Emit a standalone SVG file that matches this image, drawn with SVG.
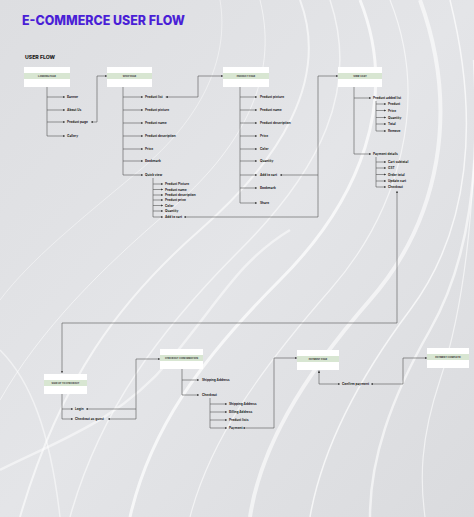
<svg xmlns="http://www.w3.org/2000/svg" width="474" height="517" viewBox="0 0 474 517">
<defs>
<linearGradient id="bg" x1="0" y1="0" x2="1" y2="1">
<stop offset="0" stop-color="#dddee1"/>
<stop offset="0.5" stop-color="#e4e5e8"/>
<stop offset="1" stop-color="#dadbde"/>
</linearGradient>
<marker id="ah" viewBox="0 0 4 4" refX="4" refY="2" markerWidth="2.4" markerHeight="2.4" markerUnits="userSpaceOnUse" orient="auto-start-reverse">
<path d="M0 0L4 2L0 4z" fill="#3a3a3a"/>
</marker>
<style>
.ln{fill:none;stroke:#555;stroke-width:0.6}
.cn{fill:none;stroke:#555;stroke-width:0.6;marker-end:url(#ah)}
.cs{fill:none;stroke:#555;stroke-width:0.6;marker-start:url(#ah)}
.cb{fill:none;stroke:#555;stroke-width:0.6;marker-start:url(#ah);marker-end:url(#ah)}
.box{fill:#ffffff}
.band{fill:#d8e6d2}
.nt{font-family:Inter,"Open Sans",sans-serif;font-size:2.4px;font-weight:700;fill:#333;text-anchor:middle}
.it{font-family:Inter,"Open Sans",sans-serif;font-size:3.2px;font-weight:700;fill:#2a2a2a}
.wave{fill:none;stroke:#ffffff}
</style>
</defs>
<rect width="474" height="517" fill="url(#bg)"/>
<g id="background-waves">
<path class="wave" stroke-width="2" opacity="0.6" d="M300 0C330 80 280 160 200 230C120 300 60 380 20 517"/>
<path class="wave" stroke-width="1.5" opacity="0.55" d="M330 0C360 90 320 170 240 250C160 330 100 410 70 517"/>
<path class="wave" stroke-width="3" opacity="0.7" d="M360 0C400 100 360 200 280 280C200 360 150 430 130 517"/>
<path class="wave" stroke-width="1.2" opacity="0.6" d="M390 0C430 100 400 210 330 290C260 370 210 440 190 517"/>
<path class="wave" stroke-width="4" opacity="0.6" d="M420 0C460 110 440 220 370 300C300 380 260 450 250 517"/>
<path class="wave" stroke-width="1.5" opacity="0.7" d="M450 0C480 120 470 230 410 310C350 390 320 460 310 517"/>
<path class="wave" stroke-width="2.5" opacity="0.6" d="M474 60C480 170 470 260 430 330C390 400 370 460 370 517"/>
<path class="wave" stroke-width="1.2" opacity="0.6" d="M474 160C470 250 460 320 440 380C420 440 420 480 425 517"/>
<path class="wave" stroke-width="1" opacity="0.55" d="M260 0C280 80 240 150 170 210C100 270 40 330 0 400"/>
<path class="wave" stroke-width="1" opacity="0.45" d="M220 0C230 60 200 120 140 170C80 220 30 260 0 300"/>
<path class="wave" stroke-width="2.5" opacity="0.5" d="M0 470C60 440 120 420 170 360C220 300 240 260 290 230"/>
<path class="wave" stroke-width="1.5" opacity="0.5" d="M0 350C30 380 50 430 60 517"/>
</g>
<g id="title">
<text x="22" y="25" font-family="Inter,'Open Sans',sans-serif" font-size="13" font-weight="800" fill="#4a1fd6" textLength="163" lengthAdjust="spacingAndGlyphs">E-COMMERCE USER FLOW</text>
<text x="25" y="58.5" font-family="Inter,'Open Sans',sans-serif" font-size="5.2" font-weight="800" fill="#1e1e1e">USER FLOW</text>
</g>
<g id="connectors">
<path class="ln" d="M47 87V136"/>
<path class="cn" d="M47 97H65"/><path class="cn" d="M47 110H65"/><path class="cn" d="M47 122H65"/><path class="cn" d="M47 136H65"/>
<path class="cb" d="M91 122H97V76H107"/>
<path class="ln" d="M123 87V175"/>
<path class="cn" d="M123 97H143"/><path class="cn" d="M123 110H143"/><path class="cn" d="M123 123H143"/><path class="cn" d="M123 136H143"/><path class="cn" d="M123 149H143"/><path class="cn" d="M123 161H143"/><path class="cn" d="M123 175H143"/>
<path class="ln" d="M153 178V217"/>
<path class="cn" d="M153 184H163"/><path class="cn" d="M153 189.5H163"/><path class="cn" d="M153 195H163"/><path class="cn" d="M153 200H163"/><path class="cn" d="M153 205.5H163"/><path class="cn" d="M153 211H163"/><path class="cn" d="M153 217H163"/>
<path class="cb" d="M165.5 97H198V76H223"/>
<path class="ln" d="M240 87V203"/>
<path class="cn" d="M240 97H257"/><path class="cn" d="M240 110H257"/><path class="cn" d="M240 123H257"/><path class="cn" d="M240 136H257"/><path class="cn" d="M240 149H257"/><path class="cn" d="M240 161H257"/><path class="cn" d="M240 175H257"/><path class="cn" d="M240 188H257"/><path class="cn" d="M240 203H257"/>
<path class="cs" d="M280 175H318"/>
<path class="cb" d="M184 217H318V76H338"/>
<path class="ln" d="M354 87V154"/>
<path class="cn" d="M354 98H371"/><path class="cn" d="M354 154H371"/>
<path class="ln" d="M376 101V131"/>
<path class="cn" d="M376 104H386"/><path class="cn" d="M376 110.5H386"/><path class="cn" d="M376 117.5H386"/><path class="cn" d="M376 124H386"/><path class="cn" d="M376 131H386"/>
<path class="ln" d="M376 157V187"/>
<path class="cn" d="M376 162H386"/><path class="cn" d="M376 168H386"/><path class="cn" d="M376 174.5H386"/><path class="cn" d="M376 181H386"/><path class="cn" d="M376 187H386"/>
<path class="cb" d="M397 191V323H62V373"/>
<path class="ln" d="M62 394V419"/>
<path class="cn" d="M62 409H73"/><path class="cn" d="M62 419H73"/>
<path class="cs" d="M86 409H136"/>
<path class="cb" d="M108 419H136V359H160"/>
<path class="ln" d="M182 369V395"/>
<path class="cn" d="M182 380H199"/><path class="cn" d="M182 395H199"/>
<path class="ln" d="M210 398V428"/>
<path class="cn" d="M210 404H227"/><path class="cn" d="M210 412H227"/><path class="cn" d="M210 420H227"/><path class="cn" d="M210 428H227"/>
<path class="cb" d="M243 428H274V358H297"/>
<path class="cb" d="M319 370.5V384H340"/>
<path class="cb" d="M371 384H403V358H427"/>
</g>
<g id="landing-page">
<rect class="box" x="24" y="67" width="46" height="20"/><rect class="band" x="24" y="73" width="46" height="6"/>
<text class="nt" x="47" y="76.9">LANDING PAGE</text>
<text class="it" x="67" y="98.1">Banner</text>
<text class="it" x="67" y="111.1">About Us</text>
<text class="it" x="67" y="123.1">Product page</text>
<text class="it" x="67" y="137.1">Gallery</text>
</g>
<g id="shop-page">
<rect class="box" x="107" y="67" width="45" height="20"/><rect class="band" x="107" y="73" width="45" height="6"/>
<text class="nt" x="129.5" y="76.9">SHOP PAGE</text>
<text class="it" x="145" y="98.1">Product list</text>
<text class="it" x="145" y="111.1">Product picture</text>
<text class="it" x="145" y="124.1">Product name</text>
<text class="it" x="145" y="137.1">Product description</text>
<text class="it" x="145" y="150.1">Price</text>
<text class="it" x="145" y="162.1">Bookmark</text>
<text class="it" x="145" y="176.1">Quick view</text>
<text class="it" x="165" y="185.1">Product Picture</text>
<text class="it" x="165" y="190.6">Product name</text>
<text class="it" x="165" y="196.1">Product description</text>
<text class="it" x="165" y="201.1">Product price</text>
<text class="it" x="165" y="206.6">Color</text>
<text class="it" x="165" y="212.1">Quantity</text>
<text class="it" x="165" y="218.1">Add to cart</text>
</g>
<g id="product-page">
<rect class="box" x="223" y="67" width="46" height="20"/><rect class="band" x="223" y="73" width="46" height="6"/>
<text class="nt" x="246" y="76.9">PRODUCT PAGE</text>
<text class="it" x="260" y="98.1">Product picture</text>
<text class="it" x="260" y="111.1">Product name</text>
<text class="it" x="260" y="124.1">Product description</text>
<text class="it" x="260" y="137.1">Price</text>
<text class="it" x="260" y="150.1">Color</text>
<text class="it" x="260" y="162.1">Quantity</text>
<text class="it" x="260" y="176.1">Add to cart</text>
<text class="it" x="260" y="189.1">Bookmark</text>
<text class="it" x="260" y="204.1">Share</text>
</g>
<g id="view-cart">
<rect class="box" x="338" y="67" width="44" height="20"/><rect class="band" x="338" y="73" width="44" height="6"/>
<text class="nt" x="360" y="76.9">VIEW CART</text>
<text class="it" x="373" y="99.1">Product added list</text>
<text class="it" x="388" y="105.1">Product</text>
<text class="it" x="388" y="111.6">Price</text>
<text class="it" x="388" y="118.6">Quantity</text>
<text class="it" x="388" y="125.1">Total</text>
<text class="it" x="388" y="132.1">Remove</text>
<text class="it" x="373" y="155.1">Payment details</text>
<text class="it" x="388" y="163.1">Cart subtotal</text>
<text class="it" x="388" y="169.1">GST</text>
<text class="it" x="388" y="175.6">Order total</text>
<text class="it" x="388" y="182.1">Update cart</text>
<text class="it" x="388" y="188.1">Checkout</text>
</g>
<g id="sign-up-to-checkout">
<rect class="box" x="44" y="374" width="43" height="20"/><rect class="band" x="44" y="380" width="43" height="6"/>
<text class="nt" x="65.5" y="383.9">SIGN UP TO CHECKOUT</text>
<text class="it" x="75" y="410.1">Login</text>
<text class="it" x="75" y="420.1">Checkout as guest</text>
</g>
<g id="checkout-confirmation">
<rect class="box" x="160" y="349" width="43" height="20"/><rect class="band" x="160" y="355" width="43" height="6"/>
<text class="nt" x="181.5" y="358.9">CHECKOUT CONFIRMATION</text>
<text class="it" x="202" y="381.1">Shipping Address</text>
<text class="it" x="202" y="396.1">Checkout</text>
<text class="it" x="229" y="405.1">Shipping Address</text>
<text class="it" x="229" y="413.1">Billing Address</text>
<text class="it" x="229" y="421.1">Product lists</text>
<text class="it" x="229" y="429.1">Payment</text>
</g>
<g id="payment-page">
<rect class="box" x="297" y="350" width="42" height="20"/><rect class="band" x="297" y="356" width="42" height="6"/>
<text class="nt" x="318" y="359.9">PAYMENT PAGE</text>
<text class="it" x="342" y="385.1">Confirm payment</text>
</g>
<g id="payment-complete">
<rect class="box" x="427" y="348" width="42" height="20"/><rect class="band" x="427" y="354" width="42" height="6"/>
<text class="nt" x="448" y="357.9">PAYMENT COMPLETE</text>
</g>
</svg>
